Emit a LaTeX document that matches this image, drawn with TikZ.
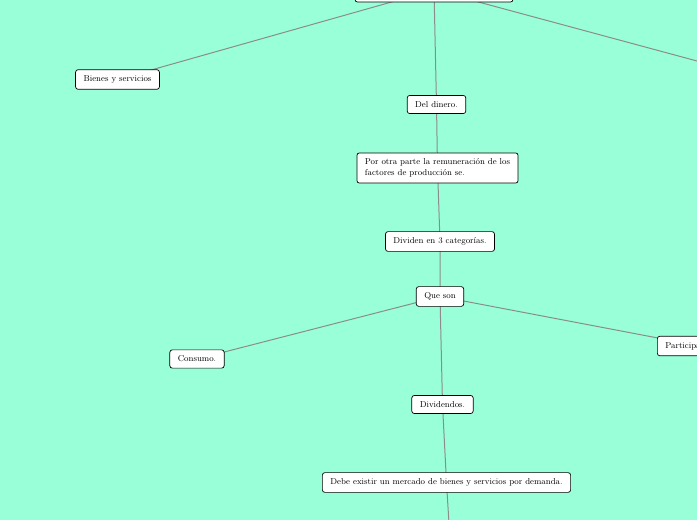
\documentclass[tikz,border=0pt]{standalone}
\begin{document}
\begin{tikzpicture}[x=1pt,y=-1pt,
  box/.style={draw=black,fill=white,rounded corners=2.5pt,font=\fontsize{8.6}{10.5}\selectfont,inner xsep=8pt,inner ysep=6pt,line width=0.7pt},
  link/.style={draw={rgb,255:red,140;green,140;blue,140},line width=1pt}]
\useasboundingbox (0,0) rectangle (697,520);
\clip (0,0) rectangle (697,520);
\fill[fill={rgb,255:red,153;green,255;blue,216}] (0,0) rectangle (697,520);
\coordinate (rt) at (760,78);
\coordinate (bt) at (450,540);
\coordinate (tc) at (434,-10);
\coordinate (dc) at (436.5,104.5);
\path[link] (tc) -- (117.5,79.5) (tc) -- (dc) (tc) -- (rt)
  (dc) -- (437.5,168) -- (440,241.5) -- (440,296.5) -- (197,359)
  (440,296.5) -- (700,346) (440,296.5) -- (442.5,404.5) -- (446.5,482.5) -- (bt);
\node[box,minimum width=158pt,minimum height=24pt] (top) at (tc) {};
\node[box] (bien) at (117.5,79.5) {Bienes y servicios};
\node[box] (din) at (dc) {Del dinero.};
\node[box,align=left] (por) at (437.5,168) {Por otra parte la remuneración de los\\factores de producción se.};
\node[box] (div) at (440,241.5) {Dividen en 3 categorías.};
\node[box] (que) at (440,296.5) {Que son};
\node[box] (con) at (197,359) {Consumo.};
\node[box,anchor=west] (par) at (657,346) {Participaciones.};
\node[box] (dvd) at (442.5,404.5) {Dividendos.};
\node[box] (deb) at (446.5,482.5) {Debe existir un mercado de bienes y servicios por demanda.};
\end{tikzpicture}
\end{document}
